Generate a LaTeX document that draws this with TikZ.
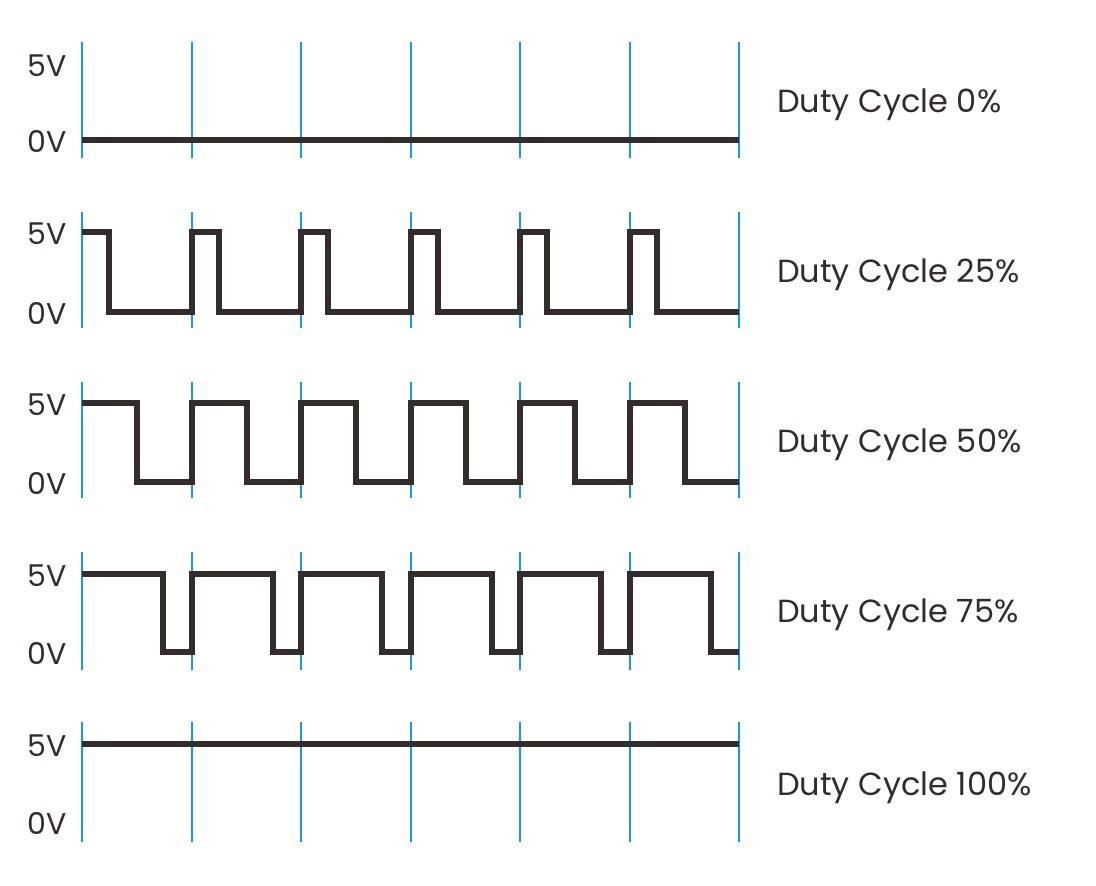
\documentclass[tikz,border=0pt]{standalone}
\usepackage{fontspec}
\setmainfont{Poppins}
\definecolor{wave}{HTML}{332C2B}
\definecolor{grid}{HTML}{1A9AD6}
\begin{document}
\begin{tikzpicture}[x=1pt,y=-1pt,
  gridline/.style={grid,line width=2},
  sig/.style={wave,line width=6,line join=miter},
  lab/.style={font=\fontsize{32}{32}\selectfont,text=wave,anchor=base west,inner sep=0},
  vl/.style={font=\fontsize{30}{30}\selectfont,text=wave,anchor=base east}]
\useasboundingbox (0,0) rectangle (1096,886);
\fill[white] (0,0) rectangle (1096,886);
\foreach \t/\b/\hi/\lo [count=\r] in {42/158/64/140, 212/328/232/312, 382/498/403/482, 552/670/574/652, 722/842/744/822}{
  \foreach \x in {82,191.5,301,410.5,520,629.5,739}
    \draw[gridline] (\x,\t) -- (\x,\b);
  \node[vl] (v5\r) at (70,\hi+12) {5V};
  \node[vl] (v0\r) at (70,\lo+12) {0V};
}
\draw[sig] (82,140) -- (739,140);
\draw[sig] (82,744) -- (739,744);
\foreach \d/\lo/\hi in {27/312/232, 55/482/403, 81/652/574}{
  \draw[sig] (82,\hi)
    \foreach \i in {0,...,5}{
      -- ({82+109.5*\i},\hi) -- ({82+109.5*\i+\d},\hi) -- ({82+109.5*\i+\d},\lo) -- ({82+109.5*(\i+1)},\lo)
      \ifnum\i<5 -- ({82+109.5*(\i+1)},\hi)\fi
    };
}
\node[lab] (d0) at (777,112) {Duty Cycle 0\%};
\node[lab] (d25) at (777,282) {Duty Cycle 25\%};
\node[lab] (d50) at (777,452) {Duty Cycle 50\%};
\node[lab] (d75) at (777,622) {Duty Cycle 75\%};
\node[lab] (d100) at (777,795) {Duty Cycle 100\%};
\end{tikzpicture}
\end{document}
